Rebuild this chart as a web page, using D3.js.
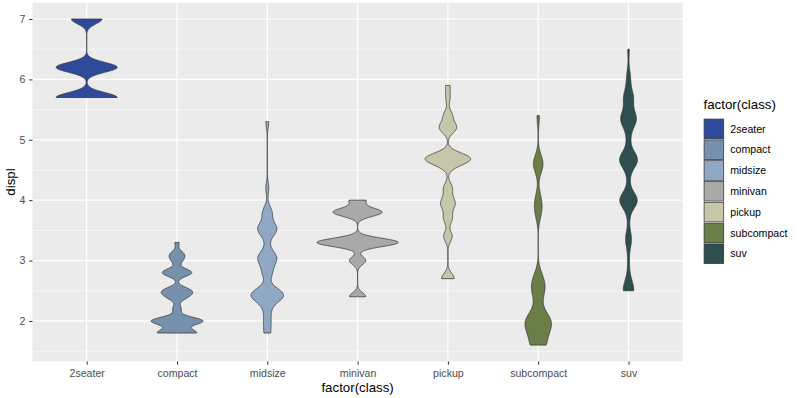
<!DOCTYPE html>
<html>
<head>
<meta charset="utf-8">
<script src="https://cdn.jsdelivr.net/npm/d3@7"></script>
<style>
  html, body { margin: 0; padding: 0; background: #ffffff; }
  svg { display: block; font-family: "Liberation Sans", Arial, sans-serif; }
</style>
</head>
<body>
<svg id="chart" width="800" height="398"></svg>
<script>
// ---- Data (mpg: displ by class) ----
const classes = ["2seater", "compact", "midsize", "minivan", "pickup", "subcompact", "suv"];
const displ2seater = [5.7, 5.7, 6.2, 6.2, 7.0];
const displCompact = [1.8, 1.8, 2.0, 2.0, 2.8, 2.8, 3.1,
  1.8, 1.8, 2.0, 2.0, 2.8, 2.8, 3.1, 3.1,
  2.4, 2.4,
  2.5, 2.5, 2.5, 2.5,
  2.2, 2.2, 2.4, 2.4, 3.0, 3.0, 3.3,
  1.8, 1.8, 1.8, 1.8, 1.8,
  2.0, 2.0, 2.0, 2.0, 2.8,
  1.9, 2.0, 2.0, 2.0, 2.0, 2.5, 2.5, 2.8, 2.8];
const displMidsize = [2.8, 3.1, 4.2,
  2.4, 2.4, 3.1, 3.5, 3.6,
  2.4, 2.4, 2.4, 2.4, 2.5, 2.5, 3.3,
  2.5, 2.5, 3.5, 3.5,
  3.0, 3.0, 3.5,
  3.1, 3.8, 3.8, 3.8, 5.3,
  2.2, 2.2, 2.4, 2.4, 3.0, 3.0, 3.5,
  1.8, 1.8, 2.0, 2.0, 2.8, 2.8, 3.6];
const displMinivan = [2.4, 3.0, 3.3, 3.3, 3.3, 3.3, 3.3, 3.8, 3.8, 3.8, 4.0];
const displPickup = [3.7, 3.7, 3.9, 3.9, 4.7, 4.7, 4.7, 5.2, 5.2,
  4.7, 4.7, 4.7, 4.7, 4.7, 4.7, 5.2, 5.2, 5.7, 5.9,
  4.2, 4.2, 4.6, 4.6, 4.6, 5.4, 5.4,
  2.7, 2.7, 2.7, 3.4, 3.4, 4.0, 4.0];
const displSubcompact = [3.8, 3.8, 4.0, 4.0, 4.6, 4.6, 4.6, 4.6, 5.4,
  1.6, 1.6, 1.6, 1.6, 1.6, 1.8, 1.8, 1.8, 2.0,
  2.0, 2.0, 2.0, 2.0, 2.7, 2.7, 2.7,
  2.2, 2.2, 2.5, 2.5,
  1.9, 1.9, 2.0, 2.0, 2.5, 2.5];
const displSuv = [5.3, 5.3, 5.3, 5.7, 6.0,
  5.3, 5.3, 5.7, 6.5,
  3.9, 4.7, 4.7, 4.7, 5.2, 5.7, 5.9,
  4.6, 5.4, 5.4,
  4.0, 4.0, 4.0, 4.0, 4.6, 5.0,
  3.0, 3.7, 4.0, 4.7, 4.7, 4.7, 5.7, 6.1,
  4.0, 4.2, 4.4, 4.6,
  5.4, 5.4, 5.4,
  4.0, 4.0, 4.6, 5.0,
  3.3, 3.3, 4.0, 5.6,
  2.5, 2.5, 2.5, 2.5, 2.5, 2.5,
  2.7, 2.7, 3.4, 3.4, 4.0, 4.7,
  4.7, 5.7];
const displByClass = [displ2seater, displCompact, displMidsize, displMinivan, displPickup, displSubcompact, displSuv];
const fillColors = ["#2E4A9B", "#7790AC", "#90A8C4", "#A9A9A9", "#C6C6AA", "#6A7E48", "#2F4F4F"];
const yTicks = [2, 3, 4, 5, 6, 7];
const yMinorTicks = [1.5, 2.5, 3.5, 4.5, 5.5, 6.5];
const bwAdjust = 1 / 3;

// ---- Layout ----
const panel = { left: 32.5, right: 682.7, top: 2.7, bottom: 361.4 };
const svg = d3.select("#chart");

const allVals = displByClass.flat();
const dMin = d3.min(allVals), dMax = d3.max(allVals);
const expand = (dMax - dMin) * 0.05;

const x = d3.scalePoint().domain(classes).range([panel.left, panel.right]).padding(0.6);
const y = d3.scaleLinear().domain([dMin - expand, dMax + expand]).range([panel.bottom, panel.top]);
const step = x.step();

// ---- KDE (gaussian, bw.nrd0 * adjust, trimmed, n = 512) ----
function bwNrd0(v) {
  const s = d3.sort(v);
  const hi = d3.deviation(s);
  let lo = Math.min(hi, (d3.quantileSorted(s, 0.75) - d3.quantileSorted(s, 0.25)) / 1.34);
  if (!lo) lo = hi || Math.abs(s[0]) || 1;
  return 0.9 * lo * Math.pow(s.length, -0.2);
}
function kde(v) {
  const bw = bwNrd0(v) * bwAdjust;
  const lo = d3.min(v), hi = d3.max(v);
  const n = 512, out = [];
  const c = 1 / (Math.sqrt(2 * Math.PI) * bw * v.length);
  for (let i = 0; i < n; i++) {
    const t = lo + (hi - lo) * i / (n - 1);
    let s = 0;
    for (const xi of v) { const u = (t - xi) / bw; s += Math.exp(-0.5 * u * u); }
    out.push([t, s * c]);
  }
  return out;
}
const dens = displByClass.map(kde);
const maxDens = d3.max(dens, d => d3.max(d, p => p[1]));

// ---- Panel background & grid ----
svg.append("rect").attr("x", panel.left).attr("y", panel.top)
  .attr("width", panel.right - panel.left).attr("height", panel.bottom - panel.top)
  .attr("fill", "#EBEBEB");

const grid = svg.append("g");
grid.selectAll("line.minor").data(yMinorTicks).join("line")
  .attr("x1", panel.left).attr("x2", panel.right)
  .attr("y1", d => y(d)).attr("y2", d => y(d))
  .attr("stroke", "#ffffff").attr("stroke-width", 0.6);
grid.selectAll("line.majory").data(yTicks).join("line")
  .attr("x1", panel.left).attr("x2", panel.right)
  .attr("y1", d => y(d)).attr("y2", d => y(d))
  .attr("stroke", "#ffffff").attr("stroke-width", 1.2);
grid.selectAll("line.majorx").data(classes).join("line")
  .attr("x1", d => x(d)).attr("x2", d => x(d))
  .attr("y1", panel.top).attr("y2", panel.bottom)
  .attr("stroke", "#ffffff").attr("stroke-width", 1.2);

// ---- Violins ----
const halfMax = 0.45 * step;
const line = d3.line().x(p => p[0]).y(p => p[1]);
classes.forEach((cls, i) => {
  const d = dens[i];
  const cx = x(cls);
  const right = d.map(p => [cx + (p[1] / maxDens) * halfMax, y(p[0])]);
  const left = d.slice().reverse().map(p => [cx - (p[1] / maxDens) * halfMax, y(p[0])]);
  svg.append("path")
    .attr("d", line(right.concat(left)) + "Z")
    .attr("fill", fillColors[i])
    .attr("stroke", "#333333")
    .attr("stroke-width", 0.75)
    .attr("stroke-linejoin", "round");
});

// ---- Axes ----
const yAxis = d3.axisLeft(y).tickValues(yTicks).tickSize(3.3).tickPadding(3.8).tickFormat(d3.format("d"));
const gy = svg.append("g").attr("transform", `translate(${panel.left},0)`).call(yAxis);
const xAxis = d3.axisBottom(x).tickSize(3.3).tickPadding(4.8);
const gx = svg.append("g").attr("transform", `translate(0,${panel.bottom})`).call(xAxis);
[gy, gx].forEach(g => {
  g.select(".domain").remove();
  g.selectAll(".tick line").attr("stroke", "#333333").attr("stroke-width", 1);
  g.selectAll(".tick text").attr("fill", "#4D4D4D")
    .style("font-size", "10.6px").style("font-family", "'Liberation Sans', Arial, sans-serif");
});

// axis titles
svg.append("text").attr("x", (panel.left + panel.right) / 2).attr("y", 392)
  .attr("text-anchor", "middle").attr("fill", "#000").style("font-size", "13.3px")
  .text("factor(class)");
svg.append("text").attr("transform", `translate(14.5,${(panel.top + panel.bottom) / 2}) rotate(-90)`)
  .attr("text-anchor", "middle").attr("fill", "#000").style("font-size", "13.3px")
  .text("displ");

// ---- Legend ----
const lg = svg.append("g").attr("transform", "translate(703.5,0)");
lg.append("text").attr("x", 0).attr("y", 109).attr("fill", "#000").style("font-size", "13.3px")
  .text("factor(class)");
const keySize = 20.8, keyTop = 118.5;
classes.forEach((cls, i) => {
  const ky = keyTop + i * keySize;
  lg.append("rect").attr("x", 0).attr("y", ky).attr("width", keySize).attr("height", keySize)
    .attr("fill", "#EBEBEB");
  lg.append("rect").attr("x", 0.6).attr("y", ky + 0.6).attr("width", keySize - 1.2).attr("height", keySize - 1.2)
    .attr("fill", fillColors[i]).attr("stroke", "#333333").attr("stroke-width", 0.7);
  lg.append("text").attr("x", keySize + 6).attr("y", ky + keySize / 2).attr("dy", "0.35em")
    .attr("fill", "#000").style("font-size", "10.6px").text(cls);
});
</script>
</body>
</html>
